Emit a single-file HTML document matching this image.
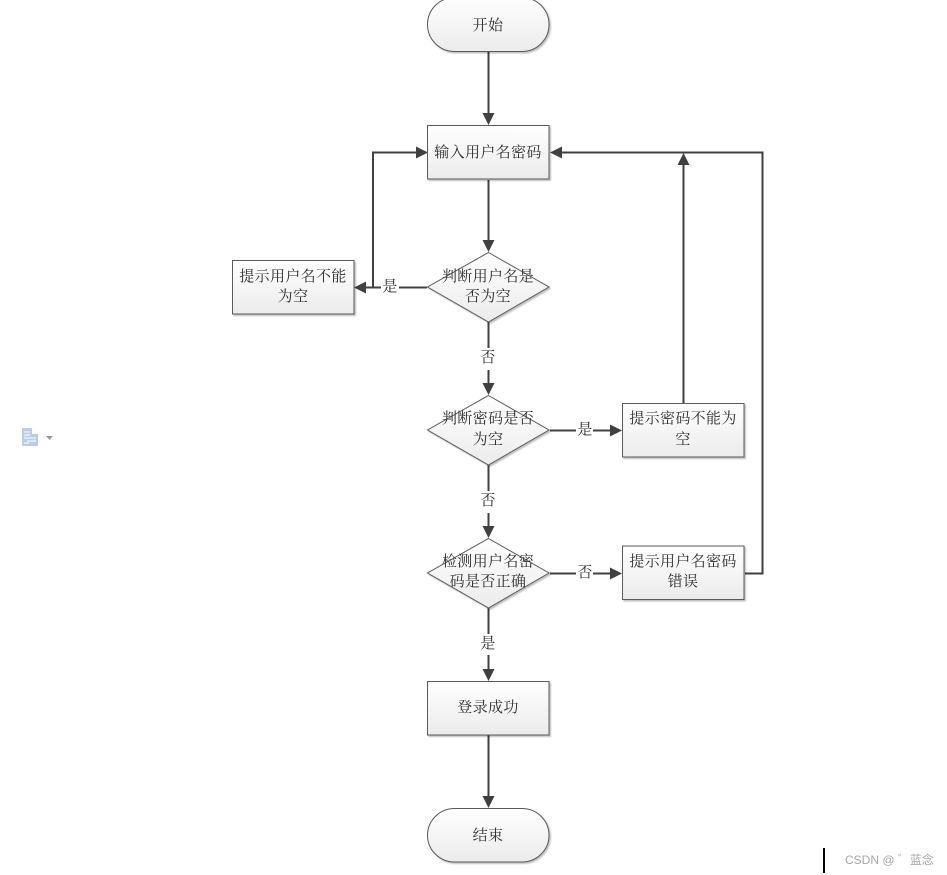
<!DOCTYPE html>
<html>
<head>
<meta charset="utf-8">
<style>
html,body{margin:0;padding:0;background:#fff;width:947px;height:875px;overflow:hidden}
svg{display:block}
.t{font-family:"Liberation Serif","Noto Serif CJK SC",serif;font-size:15px;fill:#2e2e2e;text-anchor:middle;letter-spacing:.35px}
.s{fill:url(#g);stroke:#5a5a5a;stroke-width:1;filter:url(#sh)}
.l{fill:none;stroke:#404040;stroke-width:2}
.a{fill:#404040}
.b{fill:#fff}
</style>
</head>
<body>
<svg width="947" height="875" viewBox="0 0 947 875" xmlns="http://www.w3.org/2000/svg">
<defs>
<linearGradient id="g" x1="0" y1="0" x2="0" y2="1">
<stop offset="0" stop-color="#ffffff"/>
<stop offset="1" stop-color="#ebebeb"/>
</linearGradient>
<filter id="sh" x="-10%" y="-10%" width="120%" height="125%">
<feDropShadow dx="1.5" dy="1.5" stdDeviation="0.8" flood-color="#000" flood-opacity="0.25"/>
</filter>
</defs>

<!-- connectors -->
<path class="l" d="M488.500 52V114"/>
<path class="a" d="M482.500 113H494.500L488.500 125Z"/>
<path class="l" d="M488.500 180V241"/>
<path class="a" d="M482.500 240H494.500L488.500 252Z"/>
<path class="l" d="M427 287.500H365"/>
<path class="a" d="M366 281.500V293.500L354 287.500Z"/>
<path class="l" d="M373 287.500V152.500H417"/>
<path class="a" d="M416 146.500V158.500L428 152.500Z"/>
<path class="l" d="M488.500 322V384"/>
<path class="a" d="M482.500 383H494.500L488.500 395Z"/>
<path class="l" d="M550 430.500H611"/>
<path class="a" d="M610 424.500V436.500L622 430.500Z"/>
<path class="l" d="M683.500 403V164"/>
<path class="a" d="M677.500 165H689.500L683.500 153Z"/>
<path class="l" d="M488.500 465V527"/>
<path class="a" d="M482.500 526H494.500L488.500 538Z"/>
<path class="l" d="M550 573.500H611"/>
<path class="a" d="M610 567.500V579.500L622 573.500Z"/>
<path class="l" d="M745 573.500H762.500V152.500H561"/>
<path class="a" d="M562 146.500V158.500L550 152.500Z"/>
<path class="l" d="M488.500 608V670"/>
<path class="a" d="M482.500 669H494.500L488.500 681Z"/>
<path class="l" d="M488.500 735V797"/>
<path class="a" d="M482.500 796H494.500L488.500 808Z"/>

<!-- shapes -->
<rect class="s" x="427.500" y="-2.500" width="121.500" height="54" rx="27" ry="27"/>
<rect class="s" x="427.500" y="125.500" width="121.500" height="53.500"/>
<path class="s" d="M488.500 252.500L549 287L488.500 322L427.500 287Z"/>
<rect class="s" x="232.500" y="260.500" width="121.500" height="53.500"/>
<path class="s" d="M488.500 395.500L549 430L488.500 465L427.500 430Z"/>
<rect class="s" x="622.500" y="403.500" width="121.500" height="53.500"/>
<path class="s" d="M488.500 538.500L549 573L488.500 608L427.500 573Z"/>
<rect class="s" x="622.500" y="546" width="121.500" height="53.500"/>
<rect class="s" x="427.500" y="681.500" width="121.500" height="53.500"/>
<rect class="s" x="427.500" y="808.500" width="121.500" height="53.500" rx="27" ry="27"/>

<!-- label backgrounds -->
<rect class="b" x="381" y="278" width="18" height="18"/>
<rect class="b" x="479" y="348" width="18" height="22"/>
<rect class="b" x="576" y="420" width="17" height="18"/>
<rect class="b" x="479" y="491" width="18" height="22"/>
<rect class="b" x="576" y="563" width="17" height="18"/>
<rect class="b" x="479" y="634" width="18" height="21"/>

<!-- text -->
<text class="t" x="488" y="30">开始</text>
<text class="t" x="488" y="157">输入用户名密码</text>
<text class="t" x="488" y="281">判断用户名是</text>
<text class="t" x="488" y="301">否为空</text>
<text class="t" x="293" y="281">提示用户名不能</text>
<text class="t" x="293" y="301">为空</text>
<text class="t" x="390" y="291">是</text>
<text class="t" x="488" y="362">否</text>
<text class="t" x="488" y="423">判断密码是否</text>
<text class="t" x="488" y="444">为空</text>
<text class="t" x="585" y="434">是</text>
<text class="t" x="683" y="423">提示密码不能为</text>
<text class="t" x="683" y="444">空</text>
<text class="t" x="488" y="505">否</text>
<text class="t" x="488" y="566">检测用户名密</text>
<text class="t" x="488" y="586">码是否正确</text>
<text class="t" x="585" y="577">否</text>
<text class="t" x="683" y="566">提示用户名密码</text>
<text class="t" x="683" y="586">错误</text>
<text class="t" x="488" y="648">是</text>
<text class="t" x="488" y="712">登录成功</text>
<text class="t" x="488" y="840">结束</text>

<!-- side icon -->
<path d="M22 428H32L38 434V446H22Z" fill="#b9cde8"/>
<path d="M32 428L38 434H32Z" fill="#fff"/>
<path d="M24 432H30M24 435H30M24 438H36M27 441H36M24 443H29" stroke="#fff" stroke-width="1" fill="none"/>
<path d="M46 436H53L49.500 440Z" fill="#999"/>

<!-- watermark -->
<rect x="823" y="848" width="2" height="25" fill="#000"/>
<text x="845" y="864" style="font-family:'Liberation Sans','Noto Sans CJK SC',sans-serif;font-size:12px;fill:#a8a8a8">CSDN @ ゛蓝念</text>
</svg>
</body>
</html>
